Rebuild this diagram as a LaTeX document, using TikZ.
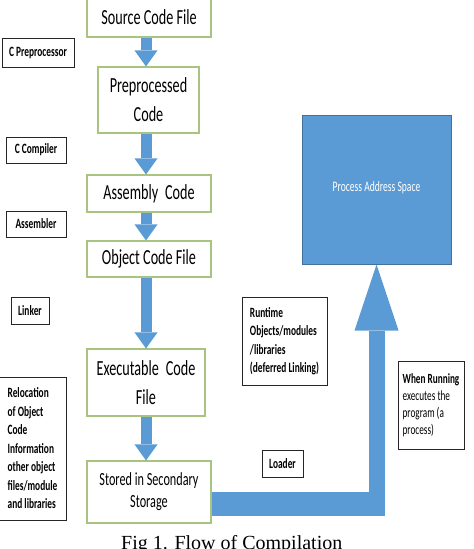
\documentclass[tikz,border=0pt]{standalone}
\usepackage{fontspec}
\setmainfont{Carlito}
\newfontfamily\boxfont[FakeStretch=0.66]{Carlito}
\newfontfamily\capfont{Liberation Serif}
\usetikzlibrary{positioning,calc,arrows.meta,shadows}
\definecolor{boxgreen}{HTML}{A9C47F}
\definecolor{blockblue}{HTML}{5B9BD5}
\definecolor{pasborder}{HTML}{41719C}
\begin{document}
\begin{tikzpicture}[x=1pt,y=-1pt,
  stage/.style={draw=boxgreen,line width=1.1pt,fill=white,inner sep=0pt,align=center,
    font=\boxfont\fontsize{21.5}{29}\selectfont},
  tool/.style={draw=black!85,line width=0.9pt,fill=white,inner sep=0pt,align=left,
    drop shadow={shadow xshift=1.3pt,shadow yshift=-1.3pt,fill=black!45,opacity=1},
    font=\boxfont\bfseries\fontsize{14.2}{18.5}\selectfont},
  blockarrow/.style={draw=blockblue,line width=11pt,
    -{Triangle[width=23pt,length=16pt,line width=0pt]}}]
\useasboundingbox (0,0) rectangle (474,549);

% stages of the compilation
\node[stage,minimum width=124pt,minimum height=40pt] (src) at (149,17) {Source Code File};
\node[stage,minimum width=101pt,minimum height=66pt] (pre) at (148.5,100) {Preprocessed\\Code};
\node[stage,minimum width=124pt,minimum height=37pt] (asm) at (149,193.5) {Assembly\, Code};
\node[stage,minimum width=124pt,minimum height=36pt] (obj) at (149,259) {Object Code File};
\node[stage,minimum width=118pt,minimum height=67pt] (exe) at (146,382.5) {Executable\, Code\\File};
\node[stage,minimum width=124pt,minimum height=62pt,font=\boxfont\fontsize{18.5}{22}\selectfont]
  (sto) at (149,492) {Stored in Secondary\\Storage};

% tools
\node[tool,minimum width=72pt,minimum height=29pt] (cpp) at (38,52.5) {C Preprocessor};
\node[tool,minimum width=60pt,minimum height=26pt] (cc) at (36,150) {C Compiler};
\node[tool,minimum width=60pt,minimum height=26pt] (as) at (36,224) {Assembler};
\node[tool,minimum width=38pt,minimum height=27pt] (ld) at (30,310.5) {Linker};
\node[tool,minimum width=67pt,minimum height=143pt] (reloc) at (32.5,448.5)
  {Relocation\\of Object\\Code\\Information\\other object\\files/module\\and libraries};
\node[tool,minimum width=41pt,minimum height=27pt] (load) at (282.5,463.5) {Loader};
\node[tool,minimum width=85pt,minimum height=88pt] (rt) at (284.5,341)
  {Runtime\\Objects/modules\\/libraries\\(deferred Linking)};
\node[tool,minimum width=66pt,minimum height=88pt,font=\boxfont\fontsize{14}{17}\selectfont]
  (run) at (431,405) {\textbf{When Running}\\executes the\\program (a\\process)};

\node[draw=pasborder,line width=1pt,fill=blockblue,text=white,inner sep=0pt,
  minimum width=149pt,minimum height=149pt,font=\boxfont\fontsize{14.5}{17}\selectfont]
  (pas) at (376.5,189.5) {\raisebox{6pt}{Process Address Space}};

% arrows
\coordinate (col) at (146,0);
\draw[blockarrow] (src.south -| col) -- (pre.north -| col);
\draw[blockarrow] (pre.south -| col) -- (asm.north -| col);
\draw[blockarrow] (asm.south -| col) -- (obj.north -| col);
\draw[blockarrow] (obj.south -| col) -- (exe.north -| col);
\draw[blockarrow] (exe.south -| col) -- (sto.north -| col);

\coordinate (bend) at (pas.south |- 0,504);
\draw[blockblue,line width=24pt] (sto.east |- bend) -- ([xshift=8pt]bend);
\draw[blockblue,line width=16pt,-{Triangle[width=44pt,length=66pt,line width=0pt]}]
  ([yshift=-12pt]bend) -- (pas.south);

\node[font=\capfont\fontsize{20}{24}\selectfont,anchor=base west,inner sep=0pt]
  (cap) at (121,549) {Fig 1. Flow of Compilation};
\end{tikzpicture}
\end{document}
